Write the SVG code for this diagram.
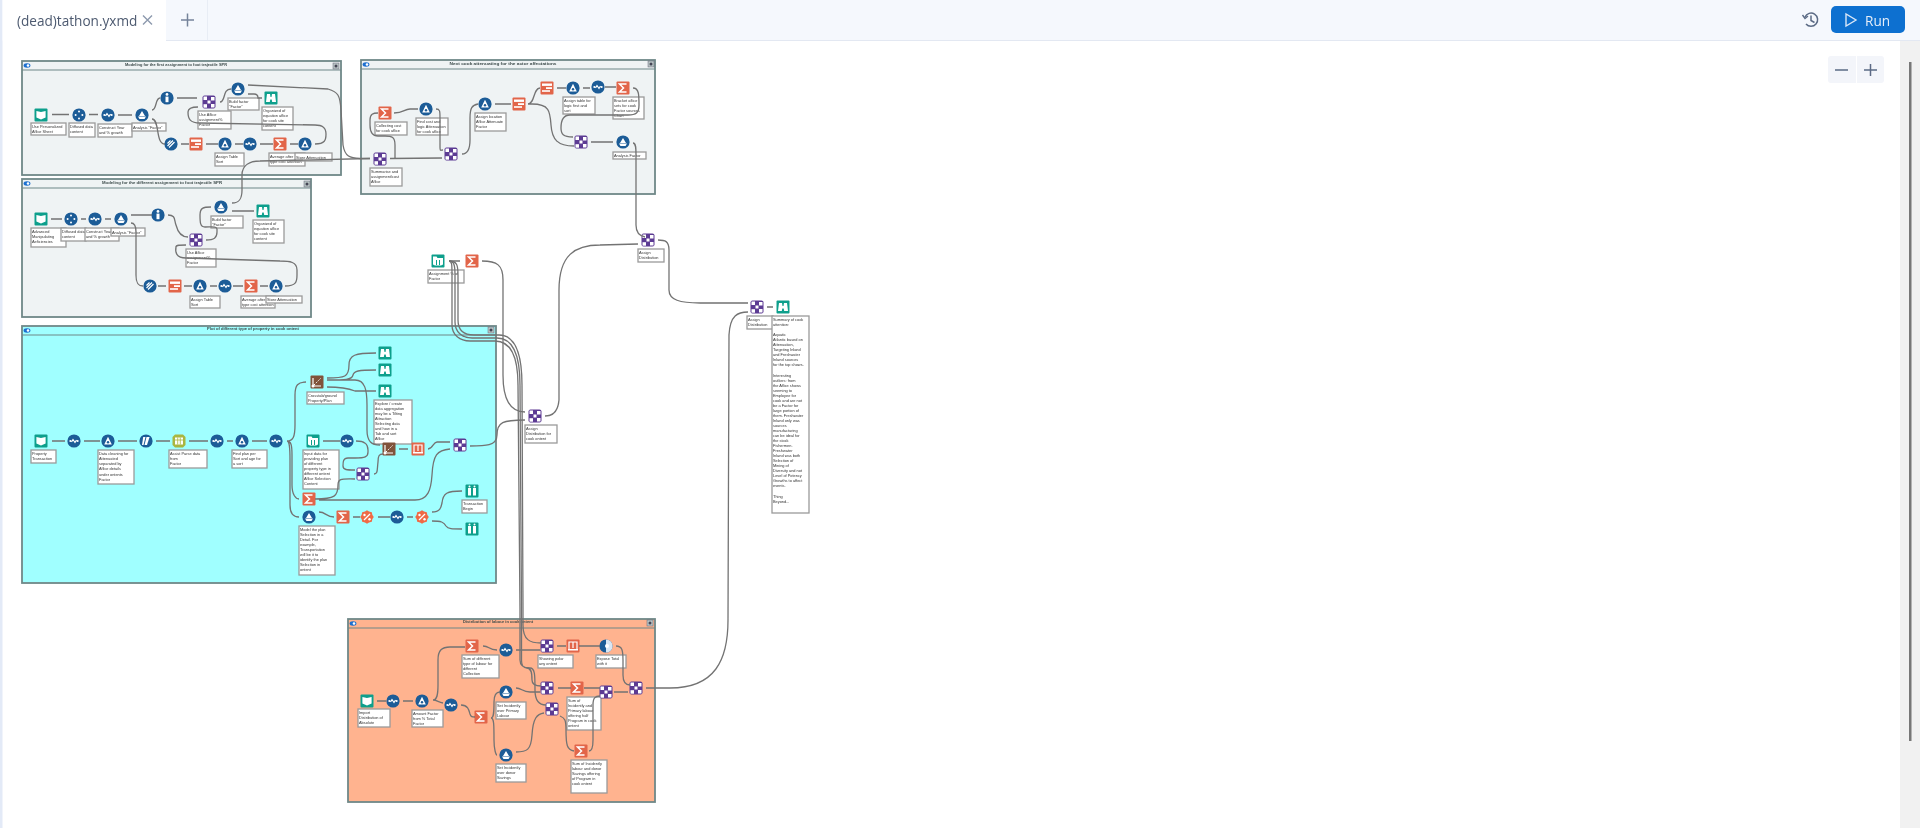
<svg xmlns="http://www.w3.org/2000/svg" width="1920" height="828" viewBox="0 0 1920 828">
<style>
text{font-family:"Liberation Sans",Arial,sans-serif}
.ct{fill:#eff3f4;stroke:#6f8888;stroke-width:1.8}
.tb{fill:none;stroke:#6f8888;stroke-width:1.2}
.tt{font-size:3.8px;font-weight:700;fill:#3c4a4a;text-anchor:middle}
.lb{fill:#fff;stroke:#9a9a9a;stroke-width:1.3}
.lt{font-size:3.9px;fill:#333}
.w{fill:#fff}
.wl{fill:none;stroke:#fff;stroke-width:1.2}
#connectors path{fill:none;stroke:#737373;stroke-width:1.3}
</style>
<defs>
<filter id="soft" filterUnits="userSpaceOnUse" x="0" y="0" width="1920" height="828"><feGaussianBlur stdDeviation="0.45"/></filter>
<g id="tog"><ellipse cx="5" cy="4.5" rx="3.4" ry="2.2" fill="#1b6fd0"/><circle cx="6" cy="4.5" r="1.3" fill="#fff"/></g>
<g id="col"><rect x="-3" y="-3" width="6" height="6" fill="#b9c4c4" stroke="#667" stroke-width=".5"/><circle r="1.5" fill="#445"/></g>
<g id="bw"><circle r="6.6" fill="#1a5b97"/><circle cx="-3.6" r="1.1" class="w"/><circle cx="3.6" cy="0" r="1.1" class="w"/><path d="M-2.5 1L-1 -1.5 1 1.5 2.5 -1" class="wl"/></g>
<g id="bt"><circle r="6.6" fill="#1a5b97"/><path d="M0 -4.2L3.8 3.5H-3.8Z" class="w"/><circle cy="1.2" r="1.2" fill="#1a5b97"/></g>
<g id="bd"><circle r="6.6" fill="#1a5b97"/><circle cy="-3.4" r="1" class="w"/><circle cy="3.4" r="1" class="w"/><circle cx="-3.4" r="1" class="w"/><circle cx="3.4" r="1" class="w"/></g>
<g id="bb"><circle r="6.6" fill="#1a5b97"/><path d="M-4 1.5H4L2.5 4H-2.5ZM0 -4L3 1H-3Z" class="w"/></g>
<g id="bi"><circle r="6.6" fill="#1a5b97"/><circle cy="-3.6" r="1.4" class="w"/><rect x="-1.5" y="-1.4" width="3" height="5.6" class="w"/></g>
<g id="bs"><circle r="6.6" fill="#1a5b97"/><path d="M-3.5 2L2 -3.5M-2 3.5L3.5 -2M-3.5 -.5L-.5 -3.5" class="wl"/></g>
<g id="bh"><circle r="6.6" fill="#1a5b97"/><path d="M0 -6.6A6.6 6.6 0 0 1 0 6.6Z" fill="#d9e6f3"/><circle cx="1" r="2" class="w"/></g>
<g id="bn"><circle r="6.6" fill="#1a5b97"/><path d="M-2.8 -4L3.6 -4 1 4H-4Z" class="w"/><path d="M0 -4L-2 4" stroke="#1a5b97" fill="none"/></g>
<g id="p"><rect x="-6.5" y="-6.5" width="13" height="13" rx="2" fill="#5c3a93"/><rect x="-5.5" y="-5.5" width="3.5" height="3.5" class="w"/><rect x="2" y="-5" width="3.5" height="3.5" class="w"/><rect x="-1.5" y="-1.5" width="3" height="3" class="w"/><rect x="-5.5" y="2.2" width="3.5" height="3.5" class="w"/><rect x="2" y="2" width="3.5" height="3.5" class="w"/></g>
<g id="rs"><rect x="-6.5" y="-6.5" width="13" height="13" rx="1" fill="#e2654a"/><polyline points="3.5,-4 -3.5,-4 .5,0 -3.5,4 3.5,4" fill="none" stroke="#fff" stroke-width="1.5"/></g>
<g id="rc"><rect x="-6.5" y="-6.5" width="13" height="13" rx="1" fill="#e2654a"/><rect x="-5" y="-4.5" width="10" height="2.4" class="w"/><rect x="-1" y="-.8" width="6" height="1.8" class="w"/><rect x="-5" y="2.2" width="8" height="1.6" class="w"/></g>
<g id="rm"><rect x="-6.5" y="-6.5" width="13" height="13" rx="1" fill="#e2654a"/><path d="M-4 4V-4H4V4" class="wl"/><path d="M0 -4V2" class="wl"/><rect x="-5" y="3" width="10" height="1.5" class="w"/></g>
<g id="o"><path d="M0 -6.8L2 -5.4 4.8 -4.8 5.4 -2 6.8 0 5.4 2 4.8 4.8 2 5.4 0 6.8 -2 5.4 -4.8 4.8 -5.4 2 -6.8 0 -5.4 -2 -4.8 -4.8 -2 -5.4Z" fill="#ef6a45"/><circle cx="-2.5" cy="-2" r="1.2" class="w"/><circle cx="2.5" cy="2.2" r="1.2" class="w"/><path d="M-3 3L3 -3" class="wl"/></g>
<g id="gb"><rect x="-6.5" y="-6.5" width="13" height="13" rx="1" fill="#0f9f8c"/><path d="M-4.6 -4L0 -3 4.6 -4V2.5L0 4.4 -4.6 2.5Z" class="w"/></g>
<g id="gn"><rect x="-6.5" y="-6.5" width="13" height="13" rx="1" fill="#0f9f8c"/><path d="M-5 4L-4 -4H-1L-.5 -1H.5L1 -4H4L5 4H1.2L.7 1.5H-.7L-1.2 4Z" class="w"/></g>
<g id="gf"><rect x="-6.5" y="-6.5" width="13" height="13" rx="1" fill="#0f9f8c"/><path d="M-5 -4.5H-1.5L-.5 -3H5V3.5L3 4.5H-3L-5 3.5Z" class="w"/><path d="M-1.5 -1V4M1.5 -1V4" stroke="#0f9f8c" fill="none"/></g>
<g id="gi"><rect x="-6.5" y="-6.5" width="13" height="13" rx="1" fill="#0f9f8c"/><rect x="-4" y="-3" width="3" height="7.5" class="w"/><rect x="1" y="-3" width="3" height="7.5" class="w"/><circle cx="-2.5" cy="-4.4" r="1" class="w"/><circle cx="2.5" cy="-4.4" r="1" class="w"/></g>
<g id="br"><rect x="-6.5" y="-6.5" width="13" height="13" rx="1" fill="#80533b"/><path d="M-4 -4V4H4" class="wl"/><path d="M-3 3L4 -4" stroke="#fff" stroke-dasharray="1.4 1.2" fill="none"/><circle cx="-4" cy="4" r="1.5" class="w"/></g>
<g id="ol"><path d="M-4 -6.5H4L6.5 -4V4L4 6.5H-4L-6.5 4V-4Z" fill="#a9b640"/><rect x="-4" y="-3.5" width="8" height="7" class="w"/><path d="M-4 -1H4M-1.3 -3.5V3.5M1.3 -3.5V3.5" stroke="#a9b640" fill="none" stroke-width=".8"/></g>
</defs>
<rect width="1920" height="828" fill="#fff"/>
<g filter="url(#soft)">
<g id="chrome">
<rect width="1920" height="40" fill="#f5f8fd"/>
<rect x="0" width="2.5" height="828" fill="#e3eaf7"/>
<rect x="2.5" width="163.5" height="40.5" fill="#fff"/>
<rect x="207" width="1" height="40" fill="#e8edf5"/>
<rect x="166" y="40" width="1754" height="1" fill="#e3e8f2"/>
<text x="17" y="25.500" font-size="13.600" style="font-family:'Open Sans',sans-serif" fill="#4d5a70">(dead)tathon.yxmd</text>
<path d="M143 15.500L152 24.500M152 15.500L143 24.500" stroke="#8c99ad" stroke-width="1.400" fill="none"/>
<path d="M181 20H194M187.500 13.500V26.500" stroke="#75839a" stroke-width="1.500" fill="none"/>
<path d="M1805 17A6.600 6.600 0 1 1 1806 24M1811 15.500V20.500L1814.500 22.500" stroke="#5b6b85" stroke-width="1.500" fill="none"/>
<path d="M1802.500 15L1805 18.500 1808 16" stroke="#5b6b85" stroke-width="1.400" fill="none"/>
<rect x="1831" y="6" width="74" height="27" rx="5" fill="#0b6fd0"/>
<path d="M1846 14V26L1856 20Z" fill="none" stroke="#d8e6f7" stroke-width="1.400"/>
<text x="1865" y="25.500" font-size="13.600" style="font-family:'Open Sans',sans-serif" fill="#e6eef9">Run</text>
<rect x="1828" y="56" width="56" height="27" rx="3" fill="#f3f5fa"/>
<rect x="1856" y="56" width="1" height="27" fill="#fff"/>
<path d="M1835 70H1848M1864 70H1877M1870.500 64V76" stroke="#5b6b85" stroke-width="1.500" fill="none"/>
<rect x="1900" y="41" width="20" height="787" fill="#f1f1f1"/>
<rect x="1909" y="62" width="2.500" height="679" fill="#777"/>
</g>
<g id="containers">
<g id="c1"><rect class="ct" x="22" y="61" width="319" height="114"/><path class="tb" d="M22 70H341"/><use href="#tog" x="22" y="61"/><use href="#col" x="336" y="66"/><text class="tt" x="176" y="66" textLength="102" lengthAdjust="spacingAndGlyphs">Modeling for the first assignment to foot trajectile SPR</text></g>
<g id="c2"><rect class="ct" x="361" y="60" width="294" height="134"/><path class="tb" d="M361 69H655"/><use href="#tog" x="361" y="60"/><use href="#col" x="651" y="64"/><text class="tt" x="503" y="65" textLength="107" lengthAdjust="spacingAndGlyphs">Next cook attenuating for the actor affectations</text></g>
<g id="c3"><rect class="ct" x="22" y="179" width="289" height="138"/><path class="tb" d="M22 188H311"/><use href="#tog" x="22" y="179"/><use href="#col" x="307" y="184"/><text class="tt" x="162" y="184" textLength="120" lengthAdjust="spacingAndGlyphs">Modeling for the different assignment to foot trajectile SPR</text></g>
<g id="c4"><rect class="ct" x="22" y="326" width="474" height="257" style="fill:#a0ffff"/><path class="tb" d="M22 335H496"/><use href="#tog" x="22" y="326"/><use href="#col" x="491" y="330"/><text class="tt" x="253" y="330" textLength="92" lengthAdjust="spacingAndGlyphs">Plot of different type of property in cook ontent</text></g>
<g id="c5"><rect class="ct" x="348" y="619" width="307" height="183" style="fill:#ffb38f"/><path class="tb" d="M348 628H655"/><use href="#tog" x="348" y="619"/><use href="#col" x="650" y="623"/><text class="tt" x="498" y="623" textLength="70" lengthAdjust="spacingAndGlyphs">Distribution of labour in cook ontent</text></g>
</g>
<g id="nodes">
<g id="n1"><use href="#gb" x="41" y="115"/><rect class="lb" x="31" y="123" width="35" height="12"/><text class="lt" x="32" y="128">Use Personalized<tspan x="32" dy="5">Aflice Sheet</tspan></text></g>
<g id="n2"><use href="#bd" x="79" y="115"/><rect class="lb" x="69" y="123" width="26" height="14"/><text class="lt" x="70" y="128">Diffused data<tspan x="70" dy="5">content</tspan></text></g>
<g id="n3"><use href="#bw" x="108" y="115"/><rect class="lb" x="98" y="124" width="34" height="13"/><text class="lt" x="99" y="129">Construct Year<tspan x="99" dy="5">and % growth</tspan></text></g>
<g id="n4"><use href="#bb" x="142" y="115"/><rect class="lb" x="132" y="123" width="34" height="8"/><text class="lt" x="133" y="128.500">Analysis "Factor"</text></g>
<g id="n5"><use href="#bi" x="167" y="98"/></g>
<g id="n6"><use href="#p" x="209" y="102"/><rect class="lb" x="198" y="111" width="33" height="18"/><text class="lt" x="199" y="116">Use Aflice<tspan x="199" dy="5">assignment%</tspan><tspan x="199" dy="5">Factor</tspan></text></g>
<g id="n7"><use href="#bb" x="238" y="89"/><rect class="lb" x="228" y="98" width="31" height="12"/><text class="lt" x="229" y="103">Build factor<tspan x="229" dy="5">"Factor"</tspan></text></g>
<g id="n8"><use href="#gn" x="271" y="98"/><rect class="lb" x="262" y="107" width="31" height="23"/><text class="lt" x="263" y="112">Organized of<tspan x="263" dy="5">equation aflice</tspan><tspan x="263" dy="5">for cook site</tspan><tspan x="263" dy="5">content</tspan></text></g>
<g id="n9"><use href="#bs" x="171" y="144"/></g>
<g id="n10"><use href="#rc" x="196" y="144"/></g>
<g id="n11"><use href="#bt" x="225" y="144"/><rect class="lb" x="215" y="153" width="29" height="13"/><text class="lt" x="216" y="158">Assign Table<tspan x="216" dy="5">Sort</tspan></text></g>
<g id="n12"><use href="#bw" x="250" y="144"/></g>
<g id="n13"><use href="#rs" x="280" y="144"/><rect class="lb" x="269" y="153" width="36" height="13"/><text class="lt" x="270" y="158">Average after<tspan x="270" dy="5">type cost attention</tspan></text></g>
<g id="n14"><use href="#bt" x="305" y="144"/><rect class="lb" x="295" y="153" width="37" height="8"/><text class="lt" x="296" y="158.500">Store Attenuation</text></g>

<g id="n15"><use href="#gb" x="41" y="219"/><rect class="lb" x="31" y="228" width="35" height="19"/><text class="lt" x="32" y="233">Advanced<tspan x="32" dy="5">Manipulating</tspan><tspan x="32" dy="5">Aeficiencies</tspan></text></g>
<g id="n16"><use href="#bd" x="71" y="219"/><rect class="lb" x="61" y="228" width="25" height="13"/><text class="lt" x="62" y="233">Diffused data<tspan x="62" dy="5">content</tspan></text></g>
<g id="n17"><use href="#bw" x="95" y="219"/><rect class="lb" x="85" y="228" width="34" height="13"/><text class="lt" x="86" y="233">Construct Year<tspan x="86" dy="5">and % growth</tspan></text></g>
<g id="n18"><use href="#bb" x="121" y="219"/><rect class="lb" x="111" y="228" width="34" height="8"/><text class="lt" x="112" y="233.500">Analysis "Factor"</text></g>
<g id="n19"><use href="#bi" x="158" y="215"/></g>
<g id="n20"><use href="#p" x="196" y="240"/><rect class="lb" x="186" y="249" width="30" height="18"/><text class="lt" x="187" y="254">Use Aflice<tspan x="187" dy="5">assignment%</tspan><tspan x="187" dy="5">Factor</tspan></text></g>
<g id="n21"><use href="#bb" x="221" y="207"/><rect class="lb" x="211" y="216" width="32" height="12"/><text class="lt" x="212" y="221">Build factor<tspan x="212" dy="5">"Factor"</tspan></text></g>
<g id="n22"><use href="#gn" x="263" y="211"/><rect class="lb" x="253" y="220" width="31" height="23"/><text class="lt" x="254" y="225">Organized of<tspan x="254" dy="5">equation aflice</tspan><tspan x="254" dy="5">for cook site</tspan><tspan x="254" dy="5">content</tspan></text></g>
<g id="n23"><use href="#bs" x="150" y="286"/></g>
<g id="n24"><use href="#rc" x="175" y="286"/></g>
<g id="n25"><use href="#bt" x="200" y="286"/><rect class="lb" x="190" y="296" width="30" height="12"/><text class="lt" x="191" y="301">Assign Table<tspan x="191" dy="5">Sort</tspan></text></g>
<g id="n26"><use href="#bw" x="225" y="286"/></g>
<g id="n27"><use href="#rs" x="251" y="286"/><rect class="lb" x="241" y="296" width="34" height="12"/><text class="lt" x="242" y="301">Average after<tspan x="242" dy="5">type cost attention</tspan></text></g>
<g id="n28"><use href="#bt" x="276" y="286"/><rect class="lb" x="266" y="296" width="36" height="7"/><text class="lt" x="267" y="301">Store Attenuation</text></g>

<g id="n29"><use href="#p" x="380" y="159"/><rect class="lb" x="370" y="168" width="32" height="18"/><text class="lt" x="371" y="173">Summarise and<tspan x="371" dy="5">assignment/cost</tspan><tspan x="371" dy="5">Aflice</tspan></text></g>
<g id="n30"><use href="#rs" x="385" y="113"/><rect class="lb" x="375" y="122" width="32" height="13"/><text class="lt" x="376" y="127">Collecting cost<tspan x="376" dy="5">for cook aflice</tspan></text></g>
<g id="n31"><use href="#bt" x="426" y="109"/><rect class="lb" x="416" y="118" width="32" height="17"/><text class="lt" x="417" y="123">Find cost and<tspan x="417" dy="5">logic Attenuation</tspan><tspan x="417" dy="5">for cook aflice</tspan></text></g>
<g id="n32"><use href="#p" x="451" y="154"/></g>
<g id="n33"><use href="#bt" x="485" y="104"/><rect class="lb" x="475" y="113" width="31" height="18"/><text class="lt" x="476" y="118">Assign location<tspan x="476" dy="5">Aflice Attenuate</tspan><tspan x="476" dy="5">Factor</tspan></text></g>
<g id="n34"><use href="#rc" x="519" y="104"/></g>
<g id="n35"><use href="#rc" x="547" y="88"/></g>
<g id="n36"><use href="#bt" x="573" y="88"/><rect class="lb" x="563" y="97" width="32" height="17"/><text class="lt" x="564" y="102">Assign table for<tspan x="564" dy="5">logic first and</tspan><tspan x="564" dy="5">sort</tspan></text></g>
<g id="n37"><use href="#bw" x="598" y="87"/></g>
<g id="n38"><use href="#rs" x="623" y="88"/><rect class="lb" x="613" y="97" width="31" height="22"/><text class="lt" x="614" y="102">Bracket aflice<tspan x="614" dy="5">sets for cook</tspan><tspan x="614" dy="5">Factor sources</tspan><tspan x="614" dy="5">Chart</tspan></text></g>
<g id="n39"><use href="#p" x="581" y="142"/></g>
<g id="n40"><use href="#bb" x="623" y="142"/><rect class="lb" x="613" y="152" width="33" height="7"/><text class="lt" x="614" y="157">Analysis Factor</text></g>

<g id="n41"><use href="#gf" x="438" y="261"/><rect class="lb" x="428" y="270" width="36" height="13"/><text class="lt" x="429" y="275">Assignment % of<tspan x="429" dy="5">Factor</tspan></text></g>
<g id="n42"><use href="#rs" x="472" y="261"/></g>
<g id="n43"><use href="#p" x="535" y="416"/><rect class="lb" x="525" y="425" width="32" height="18"/><text class="lt" x="526" y="430">Assign<tspan x="526" dy="5">Distribution for</tspan><tspan x="526" dy="5">cook ontent</tspan></text></g>
<g id="n44"><use href="#p" x="648" y="240"/><rect class="lb" x="638" y="249" width="26" height="13"/><text class="lt" x="639" y="254">Assign<tspan x="639" dy="5">Distribution</tspan></text></g>
<g id="n45"><use href="#p" x="757" y="307"/><rect class="lb" x="747" y="316" width="26" height="13"/><text class="lt" x="748" y="321">Assign<tspan x="748" dy="5">Distribution</tspan></text></g>
<g id="n46"><use href="#gn" x="783" y="307"/><rect class="lb" x="772" y="316" width="37" height="197"/><text class="lt" x="773" y="321">Summary of cook<tspan x="773" dy="5">attention:</tspan><tspan x="773" dy="10">Aquatic</tspan><tspan x="773" dy="5">Atlantic based on</tspan><tspan x="773" dy="5">Attenuation,</tspan><tspan x="773" dy="5">Targeting Inland</tspan><tspan x="773" dy="5">and Freshwater</tspan><tspan x="773" dy="5">Inland sources</tspan><tspan x="773" dy="5">for the top shows.</tspan><tspan x="773" dy="11">Interesting</tspan><tspan x="773" dy="5">outliers: from</tspan><tspan x="773" dy="5">the Aflice shows</tspan><tspan x="773" dy="5">seeming to</tspan><tspan x="773" dy="5">Employee for</tspan><tspan x="773" dy="5">cook and are not</tspan><tspan x="773" dy="5">be a Factor for</tspan><tspan x="773" dy="5">large portion of</tspan><tspan x="773" dy="5">them. Freshwater</tspan><tspan x="773" dy="5">Inland only was</tspan><tspan x="773" dy="5">sources</tspan><tspan x="773" dy="5">manufacturing</tspan><tspan x="773" dy="5">can be ideal for</tspan><tspan x="773" dy="5">the stock</tspan><tspan x="773" dy="5">Fishermen.</tspan><tspan x="773" dy="5">Freshwater</tspan><tspan x="773" dy="5">Inland was both</tspan><tspan x="773" dy="5">Selection of</tspan><tspan x="773" dy="5">Mining of</tspan><tspan x="773" dy="5">Diversity and not</tspan><tspan x="773" dy="5">Level of Potency</tspan><tspan x="773" dy="5">Growths to affect</tspan><tspan x="773" dy="5">events.</tspan><tspan x="773" dy="11">Thing</tspan><tspan x="773" dy="5">Beyond...</tspan></text></g>

<g id="n47"><use href="#gb" x="41" y="441"/><rect class="lb" x="31" y="450" width="25" height="13"/><text class="lt" x="32" y="455">Property<tspan x="32" dy="5">Transaction</tspan></text></g>
<g id="n48"><use href="#bw" x="74" y="441"/></g>
<g id="n49"><use href="#bt" x="108" y="441"/><rect class="lb" x="98" y="450" width="36" height="34"/><text class="lt" x="99" y="455">Data cleaning for<tspan x="99" dy="5">Attenuated</tspan><tspan x="99" dy="5">separated by</tspan><tspan x="99" dy="5">Aflice details</tspan><tspan x="99" dy="5.500">under ontents</tspan><tspan x="99" dy="5">Factor</tspan></text></g>
<g id="n50"><use href="#bn" x="146" y="441"/></g>
<g id="n51"><use href="#ol" x="179" y="441"/><rect class="lb" x="169" y="450" width="38" height="18"/><text class="lt" x="170" y="455">Assist Parse data<tspan x="170" dy="5">from</tspan><tspan x="170" dy="5">Factor</tspan></text></g>
<g id="n52"><use href="#bw" x="217" y="441"/></g>
<g id="n53"><use href="#bt" x="242" y="441"/><rect class="lb" x="232" y="450" width="35" height="18"/><text class="lt" x="233" y="455">Find plan per<tspan x="233" dy="5">Sort and age for</tspan><tspan x="233" dy="5">a sort</tspan></text></g>
<g id="n54"><use href="#bw" x="276" y="441"/></g>
<g id="n55"><use href="#br" x="317" y="382"/><rect class="lb" x="307" y="392" width="37" height="12"/><text class="lt" x="308" y="397">Crosstab/ground<tspan x="308" dy="5">Property/Plan</tspan></text></g>
<g id="n56"><use href="#gn" x="385" y="353"/></g>
<g id="n57"><use href="#gn" x="385" y="370"/></g>
<g id="n58"><use href="#gn" x="385" y="391"/><rect class="lb" x="374" y="400" width="38" height="44"/><text class="lt" x="375" y="405">Explore / create<tspan x="375" dy="5">data aggregation</tspan><tspan x="375" dy="5">may be a Tilting</tspan><tspan x="375" dy="5">Attraction</tspan><tspan x="375" dy="5">Selecting data</tspan><tspan x="375" dy="5">and how in a</tspan><tspan x="375" dy="5">Tab and sort</tspan><tspan x="375" dy="5">Aflice</tspan></text></g>
<g id="n59"><use href="#gf" x="313" y="441"/><rect class="lb" x="303" y="450" width="36" height="39"/><text class="lt" x="304" y="455">Input data for<tspan x="304" dy="5">providing plan</tspan><tspan x="304" dy="5">of different</tspan><tspan x="304" dy="5">property type in</tspan><tspan x="304" dy="5">different ontent</tspan><tspan x="304" dy="5">Aflice Selection</tspan><tspan x="304" dy="5">Content</tspan></text></g>
<g id="n60"><use href="#bw" x="347" y="441"/></g>
<g id="n61"><use href="#p" x="363" y="474"/></g>
<g id="n62"><use href="#br" x="389" y="449"/></g>
<g id="n63"><use href="#rm" x="418" y="449"/></g>
<g id="n64"><use href="#p" x="460" y="445"/></g>
<g id="n65"><use href="#rs" x="309" y="499"/></g>
<g id="n66"><use href="#bb" x="309" y="517"/><rect class="lb" x="299" y="526" width="36" height="49"/><text class="lt" x="300" y="531">Model the plan<tspan x="300" dy="5">Selection in a</tspan><tspan x="300" dy="5">Detail. For</tspan><tspan x="300" dy="5">example,</tspan><tspan x="300" dy="5">Transportation</tspan><tspan x="300" dy="5">will be it to</tspan><tspan x="300" dy="5">identify the plan</tspan><tspan x="300" dy="5">Selection in</tspan><tspan x="300" dy="5">ontent</tspan></text></g>
<g id="n67"><use href="#rs" x="343" y="517"/></g>
<g id="n68"><use href="#o" x="367" y="517"/></g>
<g id="n69"><use href="#bw" x="397" y="517"/></g>
<g id="n70"><use href="#o" x="422" y="517"/></g>
<g id="n71"><use href="#gi" x="472" y="491"/><rect class="lb" x="462" y="500" width="25" height="13"/><text class="lt" x="463" y="505">Transaction<tspan x="463" dy="5">Begin</tspan></text></g>
<g id="n72"><use href="#gi" x="472" y="529"/></g>

<g id="n73"><use href="#gb" x="367" y="701"/><rect class="lb" x="358" y="709" width="32" height="18"/><text class="lt" x="359" y="714">Import<tspan x="359" dy="5">Distribution of</tspan><tspan x="359" dy="5">Absolute</tspan></text></g>
<g id="n74"><use href="#bw" x="393" y="701"/></g>
<g id="n75"><use href="#bt" x="422" y="701"/><rect class="lb" x="412" y="710" width="31" height="17"/><text class="lt" x="413" y="715">Amount Factor<tspan x="413" dy="5">from % Total</tspan><tspan x="413" dy="5">Factor</tspan></text></g>
<g id="n76"><use href="#rs" x="472" y="646"/><rect class="lb" x="462" y="655" width="37" height="23"/><text class="lt" x="463" y="660">Sum of different<tspan x="463" dy="5">type of labour for</tspan><tspan x="463" dy="5">different</tspan><tspan x="463" dy="5">Collection</tspan></text></g>
<g id="n77"><use href="#bw" x="506" y="650"/></g>
<g id="n78"><use href="#bw" x="451" y="705"/></g>
<g id="n79"><use href="#rs" x="481" y="717"/></g>
<g id="n80"><use href="#bb" x="506" y="692"/><rect class="lb" x="496" y="702" width="30" height="17"/><text class="lt" x="497" y="707">Set Incidently<tspan x="497" dy="5">over Primary</tspan><tspan x="497" dy="5">Labour</tspan></text></g>
<g id="n81"><use href="#bb" x="506" y="755"/><rect class="lb" x="496" y="764" width="30" height="18"/><text class="lt" x="497" y="769">Set Incidently<tspan x="497" dy="5">over donor</tspan><tspan x="497" dy="5">Savings</tspan></text></g>
<g id="n82"><use href="#p" x="547" y="646"/><rect class="lb" x="538" y="655" width="35" height="13"/><text class="lt" x="539" y="660">Showing polar<tspan x="539" dy="5">any ontent</tspan></text></g>
<g id="n83"><use href="#rm" x="573" y="646"/></g>
<g id="n84"><use href="#bh" x="606" y="646"/><rect class="lb" x="596" y="655" width="30" height="13"/><text class="lt" x="597" y="660">Expose Total<tspan x="597" dy="5">with it</tspan></text></g>
<g id="n85"><use href="#p" x="547" y="688"/></g>
<g id="n86"><use href="#rs" x="577" y="688"/><rect class="lb" x="567" y="697" width="34" height="33"/><text class="lt" x="568" y="702">Sum of<tspan x="568" dy="5">Incidently and</tspan><tspan x="568" dy="5">Primary labour</tspan><tspan x="568" dy="5">offering half</tspan><tspan x="568" dy="5">Program in cook</tspan><tspan x="568" dy="5">ontent</tspan></text></g>
<g id="n87"><use href="#p" x="606" y="692"/></g>
<g id="n88"><use href="#p" x="636" y="688"/></g>
<g id="n89"><use href="#p" x="552" y="709"/></g>
<g id="n90"><use href="#rs" x="581" y="751"/><rect class="lb" x="571" y="760" width="36" height="33"/><text class="lt" x="572" y="765">Sum of Incidently<tspan x="572" dy="5">labour and donor</tspan><tspan x="572" dy="5">Savings offering</tspan><tspan x="572" dy="5">of Program in</tspan><tspan x="572" dy="5">cook ontent</tspan></text></g>
</g>
<g id="connectors">
<path d="M52 114.500H69M89 114.500H98M118 115H132M152 110C157 110 155 98 160 98M177 98H197M152 119C160 119 155 144 165 144M181 144H189M206 144H218M235 144H243M260 144H273M290 144H298"/>
<path d="M220 102C226 102 222 89 231 89M248 94H254Q258 94 258 98H262"/>
<path d="M248 85L328 89C338 92 340 95 341 110L343 145C345 157 350 158 360 158.500H370"/>
<path d="M315 144C325 144 326 140 326 134C326 127 322 125 315 125L200 123C190 123 188 119 188 112C188 108 192 107 198 107"/>
<path d="M232 203C240 203 242 198 242 190V175C242 165 250 161 260 161L370 158.500"/>
<path d="M51 219H62M81 219H86M105 219H111M131 215H152M168 215C176 215 174 220 176 225C178 233 182 237 188 237M131 223C135 223 136 226 136 232V275C136 283 138 286 143 286M158 286H166M184 286H192M210 286H217M233 286H243M260 286H268"/>
<path d="M285 286C296 286 297 282 297 275V270C297 262 290 261 280 261L186 258C176 258 175 252 176 247C176 245 180 245 186 245"/>
<path d="M206 240C214 240 217 238 217 232V229C217 226 212 227 205 227C200 227 200 222 200 215C200 208 203 207 211 207M232 211H254"/>
<path d="M390 158.500L442 158M395 158V145C395 137 392 136 385 136H378C372 136 370 132 370 125V120C370 114 373 113 378 113M394 113C404 113 404 109 410 109H418M436 109C440 109 440 111 440 118V147C440 152 441 150 443 150M462 154C468 154 470 148 470 140V118C470 108 472 105 478 104M495 104H511M528 104C535 104 533 88 540 88M528 104H532C550 104 550 112 551 125C552 140 558 146 574 146M557 88H566M583 88H590M605 87H616"/>
<path d="M633 88C639 88 639 95 639 105C639 113 636 115 628 115L570 115C563 115 561 120 561 128C561 134 563 137 573 137M591 142H613"/>
<path d="M633 143C636 143 636 148 636 155V225C636 233 640 236 645 237"/>
<path d="M449 261H460M482 261C497 261 503 265 503 280V375C503 395 508 412 525 412"/>
<path d="M449 261C452 261 452 265 452 275V325C452 335 460 341 470 341H495C512 341 518 360 518 385L520 610V660C520 667 526 668 530 668C535 668 535 675 535 690C535 700 538 705 546 705"/>
<path d="M449 261C454 261 455 265 455 275V322C455 332 462 338 472 338H497C514 338 520 358 520 385L521.500 610V660C521.500 668 525 668 527 668C531 668 532 672 532 680C532 685 536 686 541 686"/>
<path d="M449 261C457 261 458 265 458 275V320C458 330 464 335 474 335H499C516 335 522 355 522 385L523 610V625C523 640 530 643 541 643"/>
<path d="M545 416C553 416 558 412 559 400V290C559 255 575 245 600 245L638 244M658 240C665 240 669 241 669 250V290C669 300 680 303 700 303L748 303M767 307H773"/>
<path d="M748 312C738 312 730 315 729 335L728 620C728 660 715 688 670 688H646"/>
<path d="M52 441H65M84 441H100M118 441H137M156 441H170M189 441H208M227 441H233M252 441H267"/>
<path d="M287 441C293 441 295 437 295 425V395C295 385 298 382 306 382M287 441C291 441 292 445 292 455V485C292 495 296 499 299 499M287 441C289 441 290 445 290 460V505C290 513 293 517 299 517"/>
<path d="M327 378C345 378 349 377 349 365C349 355 355 353 376 353M327 380C345 380 352 380 353 375C354 371 358 370 376 370M327 380H355C365 380 367 390 367 405V430C367 442 372 445 380 445M327 387C342 387 350 389 355 391H376"/>
<path d="M323 441H340M356 441C366 441 368 445 368 450V452C368 457 365 458 355 458H348C343 458 343 462 343 466C343 470 347 470 355 470M315 499C335 499 338 496 338 485C338 478 342 479 355 479M374 474C378 474 377 470 378 462C378 456 379 454 383 454M399 449H408M428 449C433 449 433 442 437 442H450M319 500L415 500C428 500 431 490 432 475C433 455 437 450 450 449"/>
<path d="M470 446C485 446 497 446 497 435C497 422 503 420 525 420"/>
<path d="M319 512C326 512 326 517 334 517M353 517H360M378 517H390M407 517H413M432 512C440 512 441 508 442 503C443 493 447 491 462 491M432 521C441 521 444 522 446 526C448 529 452 529 462 529"/>
<path d="M377 701H386M403 701H413M433 700C437 700 438 695 438 685V660C438 650 442 647 450 647H465M433 700C437 700 438 702 443 703M461 705C468 705 469 710 470 714C471 717 472 717 475 717M491 718C494 718 494 712 494 702C494 695 496 692 500 692M491 718C494 718 494 725 494 740C494 750 496 755 497 755M483 646C490 646 488 650 497 650M516 650H540M516 688C522 688 522 692 530 692H540M516 752C527 752 531 750 532 735C533 718 537 714 544 713"/>
<path d="M557 646H566M579 646H600M616 646C622 646 623 650 623 660V675C623 682 626 685 630 685M558 688H571M584 688H600M614 692H628M560 716C565 718 566 720 566 730C566 745 567 750 574 751M589 751C592 751 593 748 593 740V705C593 698 595 696 600 696"/>
</g>
</g>
</svg>
